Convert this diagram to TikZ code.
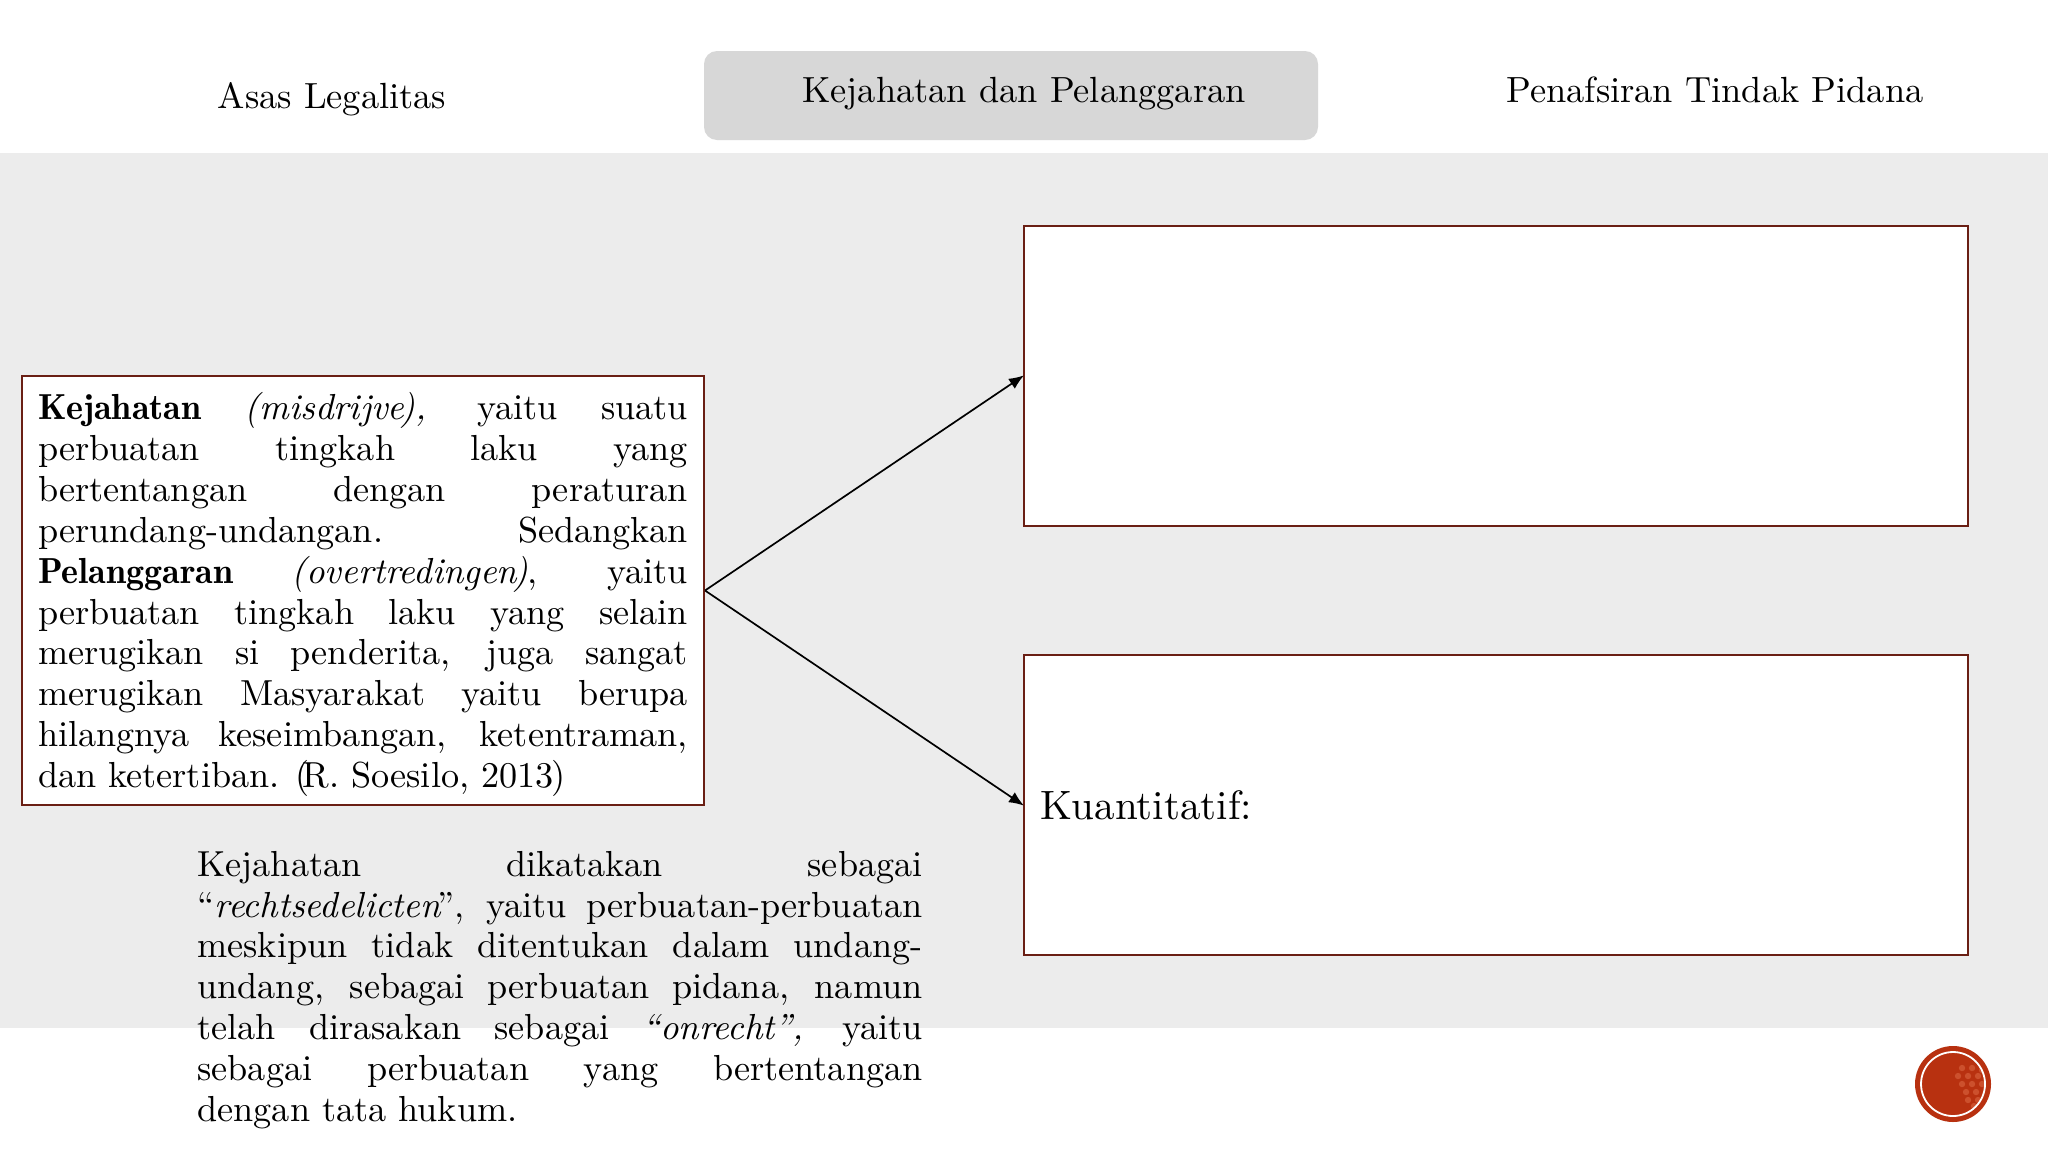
\documentclass[tikz,border=0pt]{standalone}
\usepackage{fontspec}
\setmainfont{lmroman10-regular.otf}[BoldFont=lmromandemi10-regular.otf,ItalicFont=lmroman10-italic.otf,BoldItalicFont=lmroman10-bolditalic.otf]
\usetikzlibrary{arrows.meta}
\definecolor{band}{HTML}{ECECEC}
\definecolor{tabgrey}{HTML}{D7D7D7}
\definecolor{edge}{HTML}{6A1F14}
\definecolor{disc}{HTML}{B83110}
\definecolor{discdot}{HTML}{DE6A45}
\newcommand\jw{325pt}
\newcommand\jline[1]{\makebox[\jw][s]{#1}\par}
\newcommand\bodysize{\fontsize{18.1}{20.45}\selectfont}
\tikzset{
  tabtext/.style={inner sep=0pt,anchor=base,font=\fontsize{18.2}{20.45}\selectfont,text=black},
  framed/.style={draw=edge,line width=1pt,fill=white,inner xsep=8pt,inner ysep=0pt,anchor=north west},
  link/.style={draw=black,line width=0.85pt,-{Latex[length=7.5pt,width=6pt]},shorten >=-0.6pt,shorten <=0pt},
}
\begin{document}
\begin{tikzpicture}[x=0.5pt,y=-0.5pt]
\useasboundingbox (0,0) rectangle (2048,1152);
\fill[white] (0,0) rectangle (2048,1152);
\fill[band] (0,153) rectangle (2048,1028);
\fill[tabgrey,rounded corners=6.5pt] (704,51) rectangle (1318,140);

\node[tabtext] (t1) at (332,108) {Asas Legalitas};
\node[tabtext] (t2) at (1024,102) {Kejahatan dan Pelanggaran};
\node[tabtext] (t3) at (1715,102) {Penafsiran Tindak Pidana};

\node[framed,minimum width=341pt,minimum height=214.5pt] (src) at (21,375) {\bodysize\parbox{\jw}{\vspace*{4pt}%
\jline{\textbf{Kejahatan} \textit{(misdrijve\kern-2pt),} yaitu suatu}
\jline{perbuatan tingkah laku yang}
\jline{bertentangan dengan peraturan}
\jline{perundang-undangan. Sedangkan}
\jline{\textbf{Pelanggaran} \textit{(overtredingen\kern-2pt)}, yaitu}
\jline{perbuatan tingkah laku yang selain}
\jline{merugikan si penderita, juga sangat}
\jline{merugikan Masyarakat yaitu berupa}
\jline{hilangnya keseimbangan, ketentraman,}
dan ketertiban. (\kern-3.5pt R. Soesilo, 2013\kern-1pt)}};

\node[framed,minimum width=472pt,minimum height=150pt] (upper) at (1023,225) {};
\node[framed,minimum width=472pt,minimum height=150pt,text width=456pt,align=left,font=\fontsize{20.5}{24}\selectfont] (lower) at (1023,654) {Kuantitatif:};

\draw[link] (src.east) -- (upper.west);
\draw[link] (src.east) -- (lower.west);

\node[inner sep=0pt] (note) at (560,990) {\bodysize\parbox{362.5pt}{\renewcommand\jw{362.5pt}%
\jline{Kejahatan dikatakan sebagai}
\jline{``\textit{rechtsedelicten}\kern-2pt'', yaitu perbuatan-perbuatan}
\jline{meskipun tidak ditentukan dalam undang-}
\jline{undang, sebagai perbuatan pidana, namun}
\jline{telah dirasakan sebagai \textit{``onrecht'',} yaitu}
\jline{sebagai perbuatan yang bertentangan}
dengan tata hukum.}};

\fill[disc] (1953,1084) circle (19pt);
\begin{scope}
\clip (1953,1084) circle (15.5pt);
\foreach \a/\b in {1962/1068,1972/1068,1982/1070,1958/1076,1968/1076,1978/1076,1988/1078,1962/1084,1972/1084,1982/1084,1990/1086,1966/1092,1976/1092,1986/1092,1968/1100,1978/1100,1986/1100,1974/1106}
  \fill[discdot,opacity=0.55] (\a,\b) circle (1.6pt);
\end{scope}
\draw[white,line width=0.9pt] (1953,1084) circle (16pt);
\end{tikzpicture}
\end{document}
